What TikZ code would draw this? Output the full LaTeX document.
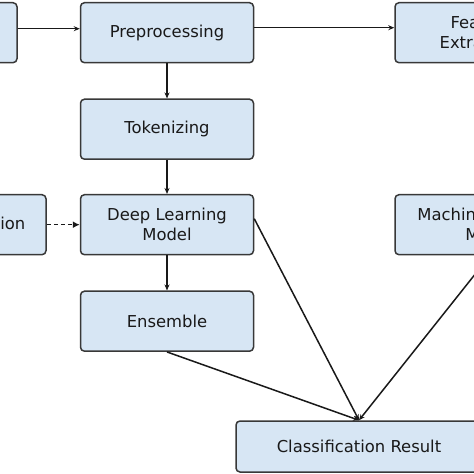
\documentclass[tikz,border=0pt]{standalone}
\usepackage{fontspec}
\setmainfont{DejaVu Sans}
\usetikzlibrary{positioning,arrows.meta}
\definecolor{BoxFill}{HTML}{D7E6F4}
\definecolor{BoxLine}{HTML}{383838}
\tikzset{
  stage/.style={draw=BoxLine, fill=BoxFill, rounded corners=4pt, line width=1.5pt,
    minimum width=173pt, minimum height=60pt, inner sep=2pt, align=center,
    text=black!90, font=\fontsize{16.4}{20}\selectfont},
  link/.style={draw=black!90, line width=1.5pt, -{Stealth[length=6pt,width=5pt]}}
}
\begin{document}
\begin{tikzpicture}[node distance=35pt]
  \useasboundingbox (0,0) rectangle (474pt,-474pt);
  \clip (0,0) rectangle (474pt,-474pt);
  \node[stage] (pre) at (167pt,-32.7pt) {Preprocessing};
  \node[stage, left=62pt of pre] (src) {Dataset};
  \node[stage, right=140pt of pre] (feat) {Feature\\Extraction};
  \node[stage, below=of pre] (tok) {Tokenizing};
  \node[stage, below=34pt of tok] (dl) {Deep Learning\\Model};
  \node[stage, below=of dl] (ens) {Ensemble};
  \node[stage, minimum width=202pt, left=33pt of dl] (aug) {Data Augmentation};
  \node[stage, minimum width=190pt, right=140pt of dl] (ml) {Machine Learning\\Model};
  \node[stage, minimum width=246pt, minimum height=51pt] (cls) at (359pt,-446.5pt) {Classification Result};
  % pipeline
  \draw[link] ([yshift=4pt]src.east) -- ([yshift=4pt]pre.west);
  \draw[link] ([yshift=5pt]pre.east) -- ([yshift=5pt]feat.west);
  \draw[link] (pre) -- (tok);
  \draw[link] (tok) -- (dl);
  \draw[link] (dl) -- (ens);
  \draw[link, dash pattern=on 4pt off 3pt, -{Latex[length=7pt,width=7pt]}] (aug) -- (dl);
  % results
  \draw[link] ([yshift=6pt]dl.east) -- (cls.north);
  \draw[link] (ens.south) -- (cls.north);
  \draw[link] (ml.south) -- (cls.north);
\end{tikzpicture}
\end{document}
